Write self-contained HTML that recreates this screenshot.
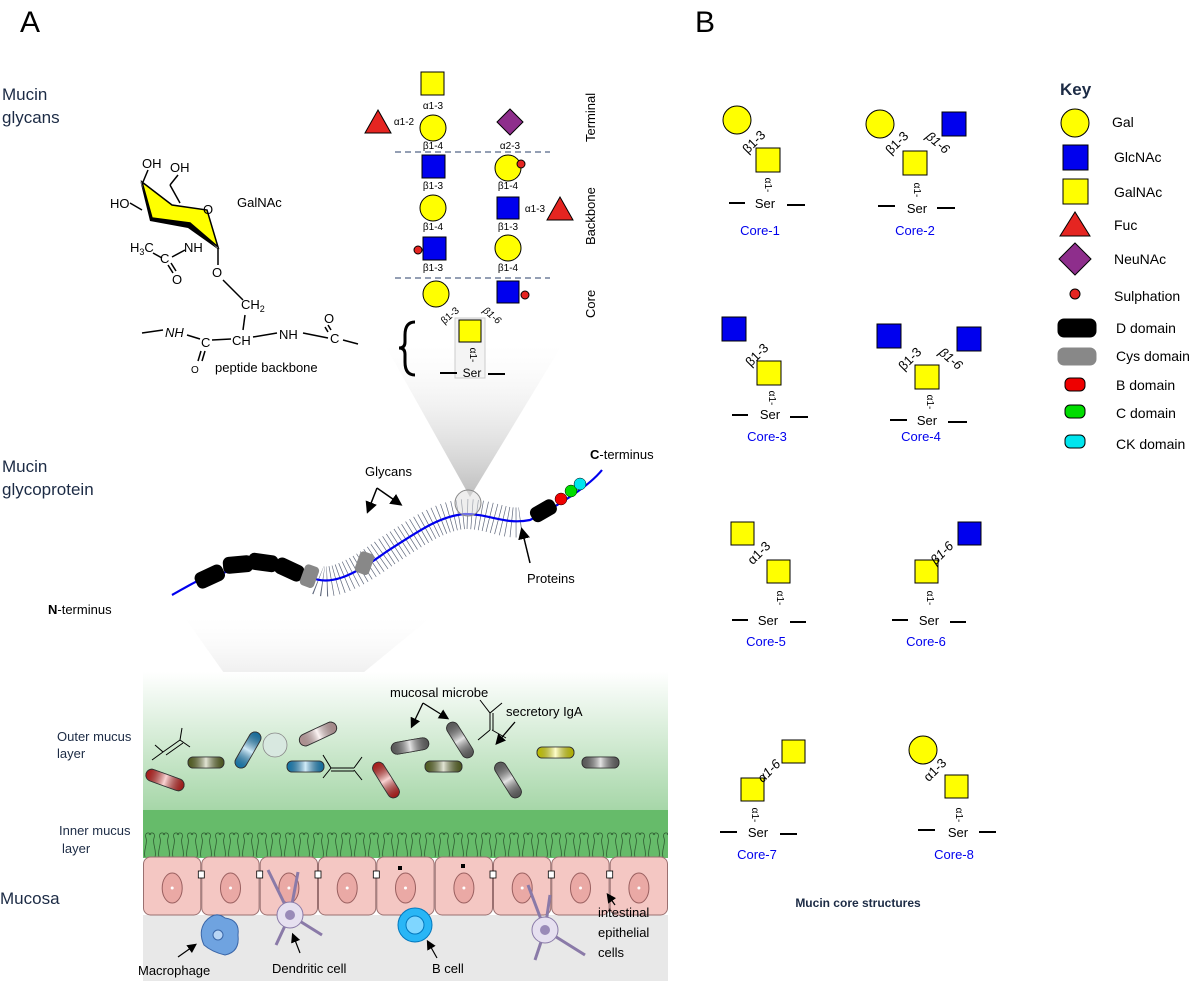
<!DOCTYPE html>
<html><head><meta charset="utf-8"><style>
html,body{margin:0;padding:0;background:#fff}
svg{display:block;font-family:"Liberation Sans",sans-serif}
</style></head><body>
<svg width="1200" height="981" viewBox="0 0 1200 981" xmlns="http://www.w3.org/2000/svg">
<defs>
<linearGradient id="cone" x1="0" y1="1" x2="0" y2="0"><stop offset="0" stop-color="#bdbdbd"/><stop offset="1" stop-color="#fff" stop-opacity="0.2"/></linearGradient>
<linearGradient id="muc" x1="0" y1="0" x2="0" y2="1"><stop offset="0" stop-color="#fff"/><stop offset="1" stop-color="#a5d6a7"/></linearGradient>
<linearGradient id="bar" x1="0" y1="0" x2="1" y2="0"><stop offset="0" stop-color="#000" stop-opacity="0.25"/><stop offset="0.5" stop-color="#fff" stop-opacity="0.8"/><stop offset="1" stop-color="#000" stop-opacity="0.3"/></linearGradient>
<marker id="ar" markerWidth="8" markerHeight="8" refX="6" refY="4" orient="auto"><path d="M0,0 L8,4 L0,8 z" fill="#000"/></marker>
<pattern id="wv" x="143" y="830" width="14" height="27" patternUnits="userSpaceOnUse">
<path d="M2,27 C0,20 5,14 3,8 C1,3 6,1 8,5 M12,27 C14,20 9,14 11,8 C13,3 8,1 6,5" fill="none" stroke="#2e5b30" stroke-width="0.8"/>
</pattern>
<g id="cell">
<rect x="0.5" y="857" width="57.3" height="58" rx="7" fill="#f4c7c3" stroke="#9a7070"/>
<ellipse cx="29.2" cy="888" rx="10" ry="15" fill="#eaa9a5" stroke="#9a6060"/>
<circle cx="29.2" cy="888" r="1.5" fill="#fff"/>
</g>
</defs>

<text x="20" y="32" font-size="30">A</text>
<text x="695" y="32" font-size="30">B</text>

<g fill="#1c2b45" font-size="17">
<text x="2" y="100">Mucin</text><text x="2" y="123">glycans</text>
<text x="2" y="472">Mucin</text><text x="2" y="495">glycoprotein</text>
<text x="0" y="904">Mucosa</text>
</g>
<g fill="#1c2b45" font-size="13">
<text x="57" y="741">Outer mucus</text><text x="57" y="758">layer</text>
<text x="59" y="835">Inner mucus</text><text x="62" y="853">layer</text>
</g>
<text x="48" y="614" font-size="13"><tspan font-weight="bold">N</tspan>-terminus</text>
<text x="590" y="459" font-size="13"><tspan font-weight="bold">C</tspan>-terminus</text>

<polygon points="470,497 385,345 562,345" fill="url(#cone)"/>
<polygon points="275,745 185,618 430,618" fill="url(#cone)"/>

<!-- GalNAc chemistry -->
<polygon points="140,180 150,221 188,228 219,250 190,220 152,214" fill="#000"/>
<polygon points="142,182 172,205 207,210 218,247 190,223 152,218" fill="#ffff00" stroke="#000" stroke-width="1.5"/>
<g font-size="13" fill="#000">
<text x="142" y="168">OH</text><text x="170" y="172">OH</text>
<text x="110" y="208">HO</text><text x="203" y="214">O</text>
<text x="237" y="207">GalNAc</text>
<text x="130" y="252">H<tspan font-size="9" dy="3">3</tspan><tspan dy="-3">C</tspan></text>
<text x="184" y="252">NH</text><text x="160" y="263">C</text><text x="172" y="284">O</text>
<text x="212" y="277">O</text>
<text x="241" y="309">CH<tspan font-size="9" dy="3">2</tspan></text>
<text x="165" y="337" font-style="italic">NH</text><text x="201" y="347">C</text>
<text x="232" y="345">CH</text><text x="279" y="339">NH</text>
<text x="324" y="323">O</text><text x="330" y="343">C</text>
<text x="191" y="373" font-size="10">O</text>
<text x="215" y="372">peptide backbone</text>
</g>
<g stroke="#000" stroke-width="1.5" fill="none">
<line x1="148" y1="170" x2="143" y2="182"/><line x1="178" y1="175" x2="170" y2="185"/><line x1="170" y1="185" x2="180" y2="203"/>
<line x1="130" y1="203" x2="142" y2="210"/>
<line x1="218" y1="248" x2="218" y2="265"/><line x1="223" y1="280" x2="243" y2="300"/>
<line x1="245" y1="315" x2="243" y2="330"/><line x1="142" y1="333" x2="163" y2="330"/>
<line x1="187" y1="335" x2="200" y2="339"/><line x1="212" y1="340" x2="231" y2="339"/>
<line x1="253" y1="337" x2="277" y2="333"/><line x1="303" y1="333" x2="328" y2="338"/>
<line x1="343" y1="340" x2="358" y2="344"/><line x1="328" y1="325" x2="331" y2="330"/><line x1="325" y1="327" x2="328" y2="332"/>
<line x1="201" y1="351" x2="198" y2="361"/><line x1="205" y1="351" x2="202" y2="361"/>
<line x1="153" y1="253" x2="162" y2="258"/><line x1="172" y1="257" x2="185" y2="250"/>
<line x1="168" y1="265" x2="173" y2="273"/><line x1="171" y1="263" x2="176" y2="271"/>
</g>

<!-- glycan tree -->
<g stroke="#000" stroke-width="1">
<rect x="421" y="72" width="23" height="23" fill="#ffff00"/>
<circle cx="433" cy="128" r="13" fill="#ffff00"/>
<polygon points="365,133 378,110 391,133" fill="#e52521"/>
<polygon points="510,109 523,122 510,135 497,122" fill="#8e2e8c"/>
<rect x="422" y="155" width="23" height="23" fill="#0000ee"/>
<circle cx="508" cy="168" r="13" fill="#ffff00"/><circle cx="521" cy="164" r="4" fill="#e52521"/>
<circle cx="433" cy="208" r="13" fill="#ffff00"/>
<rect x="497" y="197" width="22" height="22" fill="#0000ee"/>
<polygon points="547,220 560,197 573,220" fill="#e52521"/>
<rect x="423" y="237" width="23" height="23" fill="#0000ee"/><circle cx="418" cy="250" r="4" fill="#e52521"/>
<circle cx="508" cy="248" r="13" fill="#ffff00"/>
<circle cx="436" cy="294" r="13" fill="#ffff00"/>
<rect x="497" y="281" width="22" height="22" fill="#0000ee"/><circle cx="525" cy="295" r="4" fill="#e52521"/>
<rect x="455" y="318" width="30" height="60" fill="#f4f4f4" stroke="#ccc"/>
<rect x="459" y="320" width="22" height="22" fill="#ffff00"/>
</g>
<g stroke="#2a3f6a" stroke-dasharray="6,4" stroke-width="1"><line x1="395" y1="152" x2="550" y2="152"/><line x1="395" y1="278" x2="550" y2="278"/></g>
<g font-size="10" text-anchor="middle">
<text x="433" y="109">α1-3</text><text x="404" y="125">α1-2</text>
<text x="433" y="149">β1-4</text><text x="510" y="149">α2-3</text>
<text x="433" y="189">β1-3</text><text x="508" y="189">β1-4</text>
<text x="535" y="212">α1-3</text>
<text x="433" y="230">β1-4</text><text x="508" y="230">β1-3</text>
<text x="433" y="271">β1-3</text><text x="508" y="271">β1-4</text>
<text x="452" y="318" transform="rotate(-40 452 318)">β1-3</text>
<text x="490" y="318" transform="rotate(40 490 318)" font-style="italic">β1-6</text>
<text x="470" y="355" transform="rotate(90 470 355)">α1-</text>
<text x="472" y="377" font-size="12">Ser</text>
</g>
<g stroke="#000" stroke-width="2"><line x1="440" y1="373" x2="457" y2="373"/><line x1="488" y1="374" x2="505" y2="374"/></g>
<path d="M415,322 Q405,322 405,335 L405,342 Q405,348 399,348 Q405,348 405,354 L405,362 Q405,375 415,375" fill="none" stroke="#000" stroke-width="3"/>
<g font-size="13" fill="#000">
<text transform="translate(595,142) rotate(-90)">Terminal</text>
<text transform="translate(595,245) rotate(-90)">Backbone</text>
<text transform="translate(595,318) rotate(-90)">Core</text>
</g>

<!-- glycoprotein hatch -->
<path d="M318,580 C330,585 350,578 386,552 C420,530 440,516 465,514 C490,514 505,525 522,522" fill="none" stroke="#2a3550" stroke-width="30" stroke-dasharray="0.7,3.8" stroke-opacity="0.75"/>
<path d="M172,595 C190,585 200,578 215,575 C250,565 290,560 312,578 C330,585 350,578 386,552 C420,530 440,516 465,514 C490,514 505,525 530,520 C560,505 590,485 602,470" fill="none" stroke="#0000ee" stroke-width="2.2"/>
<g fill="#000">
<rect x="195" y="568" width="30" height="17" rx="6" transform="rotate(-25 210 577)"/>
<rect x="223" y="556" width="30" height="17" rx="6" transform="rotate(-5 238 565)"/>
<rect x="248" y="554" width="30" height="17" rx="6" transform="rotate(8 263 563)"/>
<rect x="274" y="561" width="30" height="17" rx="6" transform="rotate(25 289 570)"/>
<rect x="530" y="503" width="27" height="16" rx="6" transform="rotate(-30 543 511)"/>
</g>
<rect x="302" y="565" width="15" height="22" rx="4" fill="#888" transform="rotate(20 309 576)"/>
<rect x="357" y="552" width="15" height="22" rx="4" fill="#888" transform="rotate(20 364 563)"/>
<circle cx="561" cy="499" r="6" fill="#ee0000" stroke="#000" stroke-width="0.5"/>
<circle cx="571" cy="491" r="6" fill="#00dd00" stroke="#000" stroke-width="0.5"/>
<circle cx="580" cy="484" r="6" fill="#00e5ee" stroke="#000" stroke-width="0.5"/>
<circle cx="468" cy="503" r="13" fill="#ddd" fill-opacity="0.5" stroke="#888"/>
<text x="365" y="476" font-size="13">Glycans</text>
<text x="527" y="583" font-size="13">Proteins</text>
<g stroke="#000" stroke-width="1.5" fill="none">
<line x1="377" y1="488" x2="368" y2="511" marker-end="url(#ar)"/>
<line x1="377" y1="488" x2="400" y2="504" marker-end="url(#ar)"/>
<line x1="530" y1="563" x2="522" y2="530" marker-end="url(#ar)"/>
</g>

<!-- mucosa -->
<rect x="143" y="672" width="525" height="140" fill="url(#muc)"/>
<rect x="143" y="810" width="525" height="48" fill="#66bb6a"/>
<rect x="143" y="830" width="525" height="27" fill="url(#wv)"/>
<rect x="143" y="915" width="525" height="66" fill="#e8e8e8"/>
<use href="#cell" x="143"/><use href="#cell" x="201.3"/><use href="#cell" x="259.7"/>
<use href="#cell" x="318"/><use href="#cell" x="376.3"/><use href="#cell" x="434.7"/>
<use href="#cell" x="493"/><use href="#cell" x="551.3"/><use href="#cell" x="609.7"/>
<g fill="#fff" stroke="#000" stroke-width="0.8">
<rect x="198.3" y="871" width="6" height="7"/><rect x="256.7" y="871" width="6" height="7"/><rect x="315" y="871" width="6" height="7"/>
<rect x="373.3" y="871" width="6" height="7"/><rect x="490" y="871" width="6" height="7"/><rect x="548.3" y="871" width="6" height="7"/><rect x="606.7" y="871" width="6" height="7"/>
</g>
<rect x="398" y="866" width="4" height="4"/><rect x="461" y="864" width="4" height="4"/>
<g stroke="#333" stroke-width="0.8">
<g transform="rotate(20 165 780)"><rect x="145" y="774" width="40" height="12" rx="6" fill="#e52521"/><rect x="145" y="774" width="40" height="12" rx="6" fill="url(#bar)"/></g>
<g><rect x="188" y="757" width="36" height="11" rx="5" fill="#6b7a2a"/><rect x="188" y="757" width="36" height="11" rx="5" fill="url(#bar)"/></g>
<g transform="rotate(-60 248 750)"><rect x="228" y="744" width="40" height="12" rx="6" fill="#1a9be0"/><rect x="228" y="744" width="40" height="12" rx="6" fill="url(#bar)"/></g>
<circle cx="275" cy="745" r="12" fill="#d8e8e0" stroke="#888"/>
<g transform="rotate(-25 318 734)"><rect x="298" y="728" width="40" height="12" rx="6" fill="#efc5c5"/><rect x="298" y="728" width="40" height="12" rx="6" fill="url(#bar)"/></g>
<g><rect x="287" y="761" width="37" height="11" rx="5" fill="#1a9be0"/><rect x="287" y="761" width="37" height="11" rx="5" fill="url(#bar)"/></g>
<g transform="rotate(58 386 780)"><rect x="366" y="774" width="40" height="12" rx="6" fill="#e52521"/><rect x="366" y="774" width="40" height="12" rx="6" fill="url(#bar)"/></g>
<g transform="rotate(-10 410 746)"><rect x="391" y="740" width="38" height="12" rx="6" fill="#777"/><rect x="391" y="740" width="38" height="12" rx="6" fill="url(#bar)"/></g>
<g transform="rotate(58 460 740)"><rect x="440" y="734" width="40" height="12" rx="6" fill="#777"/><rect x="440" y="734" width="40" height="12" rx="6" fill="url(#bar)"/></g>
<g><rect x="425" y="761" width="37" height="11" rx="5" fill="#6b7a2a"/><rect x="425" y="761" width="37" height="11" rx="5" fill="url(#bar)"/></g>
<g><rect x="537" y="747" width="37" height="11" rx="5" fill="#ffff00"/><rect x="537" y="747" width="37" height="11" rx="5" fill="url(#bar)"/></g>
<g transform="rotate(58 508 780)"><rect x="488" y="774" width="40" height="12" rx="6" fill="#777"/><rect x="488" y="774" width="40" height="12" rx="6" fill="url(#bar)"/></g>
<g><rect x="582" y="757" width="37" height="11" rx="5" fill="#777"/><rect x="582" y="757" width="37" height="11" rx="5" fill="url(#bar)"/></g>
</g>
<g stroke="#000" stroke-width="1" fill="none">
<path d="M155,745 L163,752 L152,760 M163,752 L180,740 M180,740 L182,728 M180,740 L190,747 M166,755 L183,743"/>
<path d="M323,755 L331,768 L323,778 M331,768 L354,768 M331,771 L354,771 M354,768 L362,757 M354,770 L362,780"/>
<path d="M480,700 L490,713 L502,703 M490,713 L490,730 M493,713 L493,730 M490,730 L478,740 M492,730 L506,738"/>
</g>
<text x="390" y="697" font-size="13">mucosal microbe</text>
<text x="506" y="716" font-size="13">secretory IgA</text>
<g stroke="#000" stroke-width="1.3" fill="none">
<line x1="423" y1="703" x2="412" y2="726" marker-end="url(#ar)"/>
<line x1="423" y1="703" x2="447" y2="718" marker-end="url(#ar)"/>
<line x1="515" y1="722" x2="497" y2="743" marker-end="url(#ar)"/>
</g>
<path d="M205,922 Q215,910 225,918 Q240,920 238,935 Q240,952 225,955 Q212,952 204,945 Q198,932 205,922z" fill="#6fa3e0" stroke="#3a66a8"/>
<circle cx="218" cy="935" r="5" fill="#b8d5f5" stroke="#3a66a8"/>
<g stroke="#8a7aa8" stroke-width="3" fill="none"><path d="M290,915 L268,870 M290,915 L298,872 M290,915 L322,935 M290,915 L276,945 M545,930 L528,885 M545,930 L550,895 M545,930 L585,955 M545,930 L535,960"/></g>
<circle cx="290" cy="915" r="13" fill="#e6e0f0" stroke="#8a7aa8"/><circle cx="290" cy="915" r="5" fill="#9a8ab8"/>
<circle cx="545" cy="930" r="13" fill="#e6e0f0" stroke="#8a7aa8"/><circle cx="545" cy="930" r="5" fill="#9a8ab8"/>
<circle cx="415" cy="925" r="17" fill="#29b6f6" stroke="#0277bd"/><circle cx="415" cy="925" r="9" fill="#7fd6ff" stroke="#0277bd"/>
<g font-size="13"><text x="138" y="975">Macrophage</text><text x="272" y="973">Dendritic cell</text><text x="432" y="973">B cell</text>
<text x="598" y="917">intestinal</text><text x="598" y="937">epithelial</text><text x="598" y="957">cells</text></g>
<g stroke="#000" stroke-width="1.2"><line x1="178" y1="957" x2="195" y2="945" marker-end="url(#ar)"/><line x1="300" y1="953" x2="293" y2="935" marker-end="url(#ar)"/><line x1="437" y1="958" x2="428" y2="942" marker-end="url(#ar)"/><line x1="615" y1="905" x2="608" y2="895" marker-end="url(#ar)"/></g>

<!-- Panel B cores -->
<g stroke="#000" stroke-width="1">
<circle cx="737" cy="120" r="14" fill="#ffff00"/><rect x="756" y="148" width="24" height="24" fill="#ffff00"/>
<circle cx="880" cy="124" r="14" fill="#ffff00"/><rect x="942" y="112" width="24" height="24" fill="#0000ee"/><rect x="903" y="151" width="24" height="24" fill="#ffff00"/>
<rect x="722" y="317" width="24" height="24" fill="#0000ee"/><rect x="757" y="361" width="24" height="24" fill="#ffff00"/>
<rect x="877" y="324" width="24" height="24" fill="#0000ee"/><rect x="957" y="327" width="24" height="24" fill="#0000ee"/><rect x="915" y="365" width="24" height="24" fill="#ffff00"/>
<rect x="731" y="522" width="23" height="23" fill="#ffff00"/><rect x="767" y="560" width="23" height="23" fill="#ffff00"/>
<rect x="958" y="522" width="23" height="23" fill="#0000ee"/><rect x="915" y="560" width="23" height="23" fill="#ffff00"/>
<rect x="782" y="740" width="23" height="23" fill="#ffff00"/><rect x="741" y="778" width="23" height="23" fill="#ffff00"/>
<circle cx="923" cy="750" r="14" fill="#ffff00"/><rect x="945" y="775" width="23" height="23" fill="#ffff00"/>
</g>
<g font-size="13" text-anchor="middle">
<text transform="translate(757,145) rotate(-45)">β1-3</text>
<text transform="translate(900,146) rotate(-45)">β1-3</text><text transform="translate(935,146) rotate(40)" font-style="italic">β1-6</text>
<text transform="translate(760,358) rotate(-45)">β1-3</text>
<text transform="translate(913,362) rotate(-45)">β1-3</text><text transform="translate(948,362) rotate(40)" font-style="italic">β1-6</text>
<text transform="translate(762,556) rotate(-45)">α1-3</text>
<text transform="translate(945,556) rotate(-45)" font-style="italic">β1-6</text>
<text transform="translate(772,774) rotate(-45)" font-style="italic">α1-6</text>
<text transform="translate(938,773) rotate(-45)">α1-3</text>
</g>
<g font-size="10" text-anchor="middle">
<text transform="translate(765,185) rotate(90)">α1-</text>
<text transform="translate(914,190) rotate(90)">α1-</text>
<text transform="translate(769,398) rotate(90)">α1-</text>
<text transform="translate(927,402) rotate(90)">α1-</text>
<text transform="translate(777,598) rotate(90)">α1-</text>
<text transform="translate(927,598) rotate(90)">α1-</text>
<text transform="translate(752,815) rotate(90)">α1-</text>
<text transform="translate(956,815) rotate(90)">α1-</text>
</g>
<g font-size="13" text-anchor="middle">
<text x="765" y="208">Ser</text><text x="917" y="213">Ser</text><text x="770" y="419">Ser</text><text x="927" y="425">Ser</text>
<text x="768" y="625">Ser</text><text x="929" y="625">Ser</text><text x="758" y="837">Ser</text><text x="958" y="837">Ser</text>
</g>
<g stroke="#000" stroke-width="2">
<line x1="729" y1="203" x2="745" y2="203"/><line x1="787" y1="205" x2="805" y2="205"/>
<line x1="878" y1="206" x2="895" y2="206"/><line x1="937" y1="208" x2="955" y2="208"/>
<line x1="732" y1="415" x2="748" y2="415"/><line x1="790" y1="417" x2="808" y2="417"/>
<line x1="890" y1="420" x2="907" y2="420"/><line x1="948" y1="422" x2="967" y2="422"/>
<line x1="732" y1="620" x2="748" y2="620"/><line x1="790" y1="622" x2="806" y2="622"/>
<line x1="892" y1="620" x2="908" y2="620"/><line x1="950" y1="622" x2="966" y2="622"/>
<line x1="720" y1="832" x2="737" y2="832"/><line x1="780" y1="834" x2="797" y2="834"/>
<line x1="918" y1="830" x2="935" y2="830"/><line x1="979" y1="832" x2="996" y2="832"/>
</g>
<g font-size="13" fill="#0000ee" text-anchor="middle">
<text x="760" y="235">Core-1</text><text x="915" y="235">Core-2</text><text x="767" y="441">Core-3</text><text x="921" y="441">Core-4</text>
<text x="766" y="646">Core-5</text><text x="926" y="646">Core-6</text><text x="757" y="859">Core-7</text><text x="954" y="859">Core-8</text>
</g>
<text x="858" y="907" font-size="12" font-weight="bold" fill="#1c2b45" text-anchor="middle">Mucin core structures</text>

<text x="1060" y="95" font-size="17" font-weight="bold" fill="#1c2b45">Key</text>
<g stroke="#000" stroke-width="1">
<circle cx="1075" cy="123" r="14" fill="#ffff00"/>
<rect x="1063" y="145" width="25" height="25" fill="#0000ee"/>
<rect x="1063" y="179" width="25" height="25" fill="#ffff00"/>
<polygon points="1060,236 1075,212 1090,236" fill="#e52521"/>
<polygon points="1075,243 1091,259 1075,275 1059,259" fill="#8e2e8c"/>
<circle cx="1075" cy="294" r="5" fill="#e52521"/>
<rect x="1058" y="319" width="38" height="18" rx="6" fill="#000"/>
<rect x="1058" y="348" width="38" height="17" rx="6" fill="#888" stroke="#888"/>
<rect x="1065" y="378" width="20" height="13" rx="5" fill="#ee0000"/>
<rect x="1065" y="405" width="20" height="13" rx="5" fill="#00dd00"/>
<rect x="1065" y="435" width="20" height="13" rx="5" fill="#00e5ee"/>
</g>
<g font-size="14">
<text x="1112" y="127">Gal</text><text x="1114" y="162">GlcNAc</text><text x="1114" y="197">GalNAc</text>
<text x="1114" y="230">Fuc</text><text x="1114" y="264">NeuNAc</text><text x="1114" y="301">Sulphation</text>
<text x="1116" y="333">D domain</text><text x="1116" y="361">Cys domain</text><text x="1116" y="390">B domain</text>
<text x="1116" y="418">C domain</text><text x="1116" y="449">CK  domain</text>
</g>
</svg>
</body></html>
